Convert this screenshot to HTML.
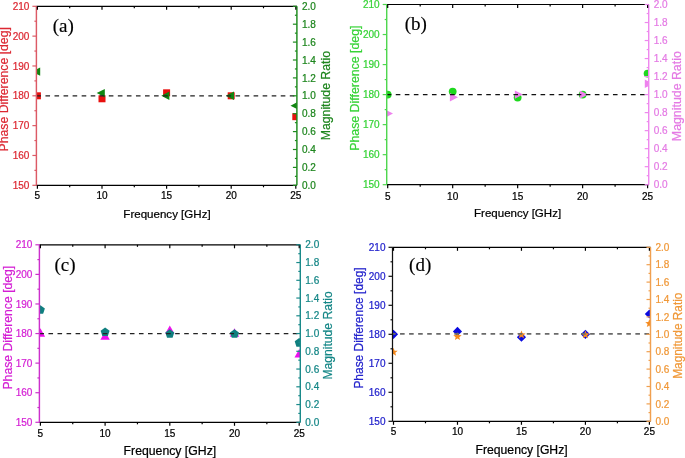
<!DOCTYPE html>
<html><head><meta charset="utf-8"><title>Phase difference and magnitude ratio</title>
<style>html,body{margin:0;padding:0;background:#fff;}svg{display:block;}text{stroke-width:0.22px;}</style></head>
<body><svg width="685" height="458" viewBox="0 0 685 458">
<rect width="685" height="458" fill="#fff"/>
<clipPath id="clipa"><rect x="36.4" y="6.3" width="260.5" height="179"/></clipPath>
<g clip-path="url(#clipa)">
<rect x="33.9" y="92.3" width="7" height="7" fill="#e8100e"/>
<polygon points="32.1,71.64 40.2,67.44 40.2,75.84" fill="#108510"/>
<rect x="98.5" y="95.28" width="7" height="7" fill="#e8100e"/>
<polygon points="96.7,93.12 104.8,88.92 104.8,97.32" fill="#108510"/>
<rect x="163.1" y="89.32" width="7" height="7" fill="#e8100e"/>
<polygon points="161.3,95.8 169.4,91.6 169.4,100" fill="#108510"/>
<rect x="227.7" y="92.3" width="7" height="7" fill="#e8100e"/>
<polygon points="225.9,95.8 234,91.6 234,100" fill="#108510"/>
<rect x="292.3" y="113.18" width="7" height="7" fill="#e8100e"/>
<polygon points="290.5,105.65 298.6,101.45 298.6,109.85" fill="#108510"/>
<line x1="36.4" y1="95.8" x2="296.9" y2="95.8" stroke="#222" stroke-width="1.3" stroke-dasharray="4.6 4.45" stroke-dashoffset="0"/>
</g>
<g stroke-width="1.2" fill="none">
<line x1="36.4" y1="6.3" x2="296.9" y2="6.3" stroke="#000"/>
<line x1="36.4" y1="185.3" x2="296.9" y2="185.3" stroke="#000"/>
<line x1="36.4" y1="6.3" x2="36.4" y2="185.3" stroke="#dc5a66" stroke-width="1.45"/>
<line x1="296.9" y1="6.3" x2="296.9" y2="185.3" stroke="#1d8a1d" stroke-width="1.45"/>
<line x1="37.4" y1="185.3" x2="37.4" y2="188.8" stroke="#000"/>
<line x1="37.4" y1="6.3" x2="37.4" y2="9.8" stroke="#000"/>
<line x1="69.7" y1="185.3" x2="69.7" y2="187.3" stroke="#000"/>
<line x1="69.7" y1="6.3" x2="69.7" y2="8.3" stroke="#000"/>
<line x1="102" y1="185.3" x2="102" y2="188.8" stroke="#000"/>
<line x1="102" y1="6.3" x2="102" y2="9.8" stroke="#000"/>
<line x1="134.3" y1="185.3" x2="134.3" y2="187.3" stroke="#000"/>
<line x1="134.3" y1="6.3" x2="134.3" y2="8.3" stroke="#000"/>
<line x1="166.6" y1="185.3" x2="166.6" y2="188.8" stroke="#000"/>
<line x1="166.6" y1="6.3" x2="166.6" y2="9.8" stroke="#000"/>
<line x1="198.9" y1="185.3" x2="198.9" y2="187.3" stroke="#000"/>
<line x1="198.9" y1="6.3" x2="198.9" y2="8.3" stroke="#000"/>
<line x1="231.2" y1="185.3" x2="231.2" y2="188.8" stroke="#000"/>
<line x1="231.2" y1="6.3" x2="231.2" y2="9.8" stroke="#000"/>
<line x1="263.5" y1="185.3" x2="263.5" y2="187.3" stroke="#000"/>
<line x1="263.5" y1="6.3" x2="263.5" y2="8.3" stroke="#000"/>
<line x1="295.8" y1="185.3" x2="295.8" y2="188.8" stroke="#000"/>
<line x1="295.8" y1="6.3" x2="295.8" y2="9.8" stroke="#000"/>
<line x1="32.4" y1="185.3" x2="36.4" y2="185.3" stroke="#dc5a66"/>
<line x1="34.4" y1="170.38" x2="36.4" y2="170.38" stroke="#dc5a66"/>
<line x1="32.4" y1="155.47" x2="36.4" y2="155.47" stroke="#dc5a66"/>
<line x1="34.4" y1="140.55" x2="36.4" y2="140.55" stroke="#dc5a66"/>
<line x1="32.4" y1="125.63" x2="36.4" y2="125.63" stroke="#dc5a66"/>
<line x1="34.4" y1="110.72" x2="36.4" y2="110.72" stroke="#dc5a66"/>
<line x1="32.4" y1="95.8" x2="36.4" y2="95.8" stroke="#dc5a66"/>
<line x1="34.4" y1="80.88" x2="36.4" y2="80.88" stroke="#dc5a66"/>
<line x1="32.4" y1="65.97" x2="36.4" y2="65.97" stroke="#dc5a66"/>
<line x1="34.4" y1="51.05" x2="36.4" y2="51.05" stroke="#dc5a66"/>
<line x1="32.4" y1="36.13" x2="36.4" y2="36.13" stroke="#dc5a66"/>
<line x1="34.4" y1="21.22" x2="36.4" y2="21.22" stroke="#dc5a66"/>
<line x1="32.4" y1="6.3" x2="36.4" y2="6.3" stroke="#dc5a66"/>
<line x1="292.9" y1="185.3" x2="296.9" y2="185.3" stroke="#1d8a1d"/>
<line x1="294.9" y1="176.35" x2="296.9" y2="176.35" stroke="#1d8a1d"/>
<line x1="292.9" y1="167.4" x2="296.9" y2="167.4" stroke="#1d8a1d"/>
<line x1="294.9" y1="158.45" x2="296.9" y2="158.45" stroke="#1d8a1d"/>
<line x1="292.9" y1="149.5" x2="296.9" y2="149.5" stroke="#1d8a1d"/>
<line x1="294.9" y1="140.55" x2="296.9" y2="140.55" stroke="#1d8a1d"/>
<line x1="292.9" y1="131.6" x2="296.9" y2="131.6" stroke="#1d8a1d"/>
<line x1="294.9" y1="122.65" x2="296.9" y2="122.65" stroke="#1d8a1d"/>
<line x1="292.9" y1="113.7" x2="296.9" y2="113.7" stroke="#1d8a1d"/>
<line x1="294.9" y1="104.75" x2="296.9" y2="104.75" stroke="#1d8a1d"/>
<line x1="292.9" y1="95.8" x2="296.9" y2="95.8" stroke="#1d8a1d"/>
<line x1="294.9" y1="86.85" x2="296.9" y2="86.85" stroke="#1d8a1d"/>
<line x1="292.9" y1="77.9" x2="296.9" y2="77.9" stroke="#1d8a1d"/>
<line x1="294.9" y1="68.95" x2="296.9" y2="68.95" stroke="#1d8a1d"/>
<line x1="292.9" y1="60" x2="296.9" y2="60" stroke="#1d8a1d"/>
<line x1="294.9" y1="51.05" x2="296.9" y2="51.05" stroke="#1d8a1d"/>
<line x1="292.9" y1="42.1" x2="296.9" y2="42.1" stroke="#1d8a1d"/>
<line x1="294.9" y1="33.15" x2="296.9" y2="33.15" stroke="#1d8a1d"/>
<line x1="292.9" y1="24.2" x2="296.9" y2="24.2" stroke="#1d8a1d"/>
<line x1="294.9" y1="15.25" x2="296.9" y2="15.25" stroke="#1d8a1d"/>
<line x1="292.9" y1="6.3" x2="296.9" y2="6.3" stroke="#1d8a1d"/>
</g>
<g font-family="'Liberation Sans', Arial, sans-serif" font-size="10">
<text x="29.4" y="188.9" text-anchor="end" fill="#dc2832" stroke="#dc2832">150</text>
<text x="29.4" y="159.07" text-anchor="end" fill="#dc2832" stroke="#dc2832">160</text>
<text x="29.4" y="129.23" text-anchor="end" fill="#dc2832" stroke="#dc2832">170</text>
<text x="29.4" y="99.4" text-anchor="end" fill="#dc2832" stroke="#dc2832">180</text>
<text x="29.4" y="69.57" text-anchor="end" fill="#dc2832" stroke="#dc2832">190</text>
<text x="29.4" y="39.73" text-anchor="end" fill="#dc2832" stroke="#dc2832">200</text>
<text x="29.4" y="9.9" text-anchor="end" fill="#dc2832" stroke="#dc2832">210</text>
<text x="301.9" y="188.9" fill="#1d851d" stroke="#1d851d">0.0</text>
<text x="301.9" y="171" fill="#1d851d" stroke="#1d851d">0.2</text>
<text x="301.9" y="153.1" fill="#1d851d" stroke="#1d851d">0.4</text>
<text x="301.9" y="135.2" fill="#1d851d" stroke="#1d851d">0.6</text>
<text x="301.9" y="117.3" fill="#1d851d" stroke="#1d851d">0.8</text>
<text x="301.9" y="99.4" fill="#1d851d" stroke="#1d851d">1.0</text>
<text x="301.9" y="81.5" fill="#1d851d" stroke="#1d851d">1.2</text>
<text x="301.9" y="63.6" fill="#1d851d" stroke="#1d851d">1.4</text>
<text x="301.9" y="45.7" fill="#1d851d" stroke="#1d851d">1.6</text>
<text x="301.9" y="27.8" fill="#1d851d" stroke="#1d851d">1.8</text>
<text x="301.9" y="9.9" fill="#1d851d" stroke="#1d851d">2.0</text>
<text x="37.4" y="199.4" text-anchor="middle" fill="#000" stroke="#000">5</text>
<text x="102" y="199.4" text-anchor="middle" fill="#000" stroke="#000">10</text>
<text x="166.6" y="199.4" text-anchor="middle" fill="#000" stroke="#000">15</text>
<text x="231.2" y="199.4" text-anchor="middle" fill="#000" stroke="#000">20</text>
<text x="295.8" y="199.4" text-anchor="middle" fill="#000" stroke="#000">25</text>
</g>
<text x="167" y="217.6" text-anchor="middle" font-family="'Liberation Sans', Arial, sans-serif" font-size="11.56" fill="#000" stroke="#000">Frequency [GHz]</text>
<text transform="translate(8.4,89.3) rotate(-90)" text-anchor="middle" font-family="'Liberation Sans', Arial, sans-serif" font-size="12.25" fill="#dc2832" stroke="#dc2832">Phase Difference [deg]</text>
<text transform="translate(330,95.65) rotate(-90)" text-anchor="middle" font-family="'Liberation Sans', Arial, sans-serif" font-size="12.25" fill="#1d851d" stroke="#1d851d">Magnitude Ratio</text>
<text x="52.8" y="31.5" font-family="'Liberation Serif', 'Times New Roman', serif" font-size="19" fill="#000" stroke="#000" style="stroke-width:0.15px">(a)</text>
<clipPath id="clipb"><rect x="386.7" y="4.5" width="262" height="180.2"/></clipPath>
<g clip-path="url(#clipb)">
<circle cx="387.7" cy="94.6" r="3.9" fill="#1ed81e"/>
<polygon points="393,113.52 384.9,109.32 384.9,117.72" fill="#ee82ee"/>
<circle cx="452.68" cy="91.6" r="3.9" fill="#1ed81e"/>
<polygon points="457.98,97.3 449.88,93.1 449.88,101.5" fill="#ee82ee"/>
<circle cx="517.65" cy="97.6" r="3.9" fill="#1ed81e"/>
<polygon points="522.95,94.6 514.85,90.4 514.85,98.8" fill="#ee82ee"/>
<circle cx="582.62" cy="94.6" r="3.9" fill="#1ed81e"/>
<polygon points="587.92,94.6 579.83,90.4 579.83,98.8" fill="#ee82ee"/>
<circle cx="647.6" cy="73.58" r="3.9" fill="#1ed81e"/>
<polygon points="652.9,83.79 644.8,79.59 644.8,87.99" fill="#ee82ee"/>
<line x1="386.7" y1="94.6" x2="648.7" y2="94.6" stroke="#111" stroke-width="1.3" stroke-dasharray="4.6 4.45" stroke-dashoffset="0"/>
</g>
<g stroke-width="1.2" fill="none">
<line x1="386.7" y1="4.5" x2="648.7" y2="4.5" stroke="#000"/>
<line x1="386.7" y1="184.7" x2="648.7" y2="184.7" stroke="#000"/>
<line x1="386.7" y1="4.5" x2="386.7" y2="184.7" stroke="#4fd64f" stroke-width="1.45"/>
<line x1="648.7" y1="4.5" x2="648.7" y2="184.7" stroke="#ee88ee" stroke-width="1.45"/>
<line x1="387.7" y1="184.7" x2="387.7" y2="188.2" stroke="#000"/>
<line x1="387.7" y1="4.5" x2="387.7" y2="8" stroke="#000"/>
<line x1="420.19" y1="184.7" x2="420.19" y2="186.7" stroke="#000"/>
<line x1="420.19" y1="4.5" x2="420.19" y2="6.5" stroke="#000"/>
<line x1="452.68" y1="184.7" x2="452.68" y2="188.2" stroke="#000"/>
<line x1="452.68" y1="4.5" x2="452.68" y2="8" stroke="#000"/>
<line x1="485.16" y1="184.7" x2="485.16" y2="186.7" stroke="#000"/>
<line x1="485.16" y1="4.5" x2="485.16" y2="6.5" stroke="#000"/>
<line x1="517.65" y1="184.7" x2="517.65" y2="188.2" stroke="#000"/>
<line x1="517.65" y1="4.5" x2="517.65" y2="8" stroke="#000"/>
<line x1="550.14" y1="184.7" x2="550.14" y2="186.7" stroke="#000"/>
<line x1="550.14" y1="4.5" x2="550.14" y2="6.5" stroke="#000"/>
<line x1="582.62" y1="184.7" x2="582.62" y2="188.2" stroke="#000"/>
<line x1="582.62" y1="4.5" x2="582.62" y2="8" stroke="#000"/>
<line x1="615.11" y1="184.7" x2="615.11" y2="186.7" stroke="#000"/>
<line x1="615.11" y1="4.5" x2="615.11" y2="6.5" stroke="#000"/>
<line x1="647.6" y1="184.7" x2="647.6" y2="188.2" stroke="#000"/>
<line x1="647.6" y1="4.5" x2="647.6" y2="8" stroke="#000"/>
<line x1="382.7" y1="184.7" x2="386.7" y2="184.7" stroke="#4fd64f"/>
<line x1="384.7" y1="169.68" x2="386.7" y2="169.68" stroke="#4fd64f"/>
<line x1="382.7" y1="154.67" x2="386.7" y2="154.67" stroke="#4fd64f"/>
<line x1="384.7" y1="139.65" x2="386.7" y2="139.65" stroke="#4fd64f"/>
<line x1="382.7" y1="124.63" x2="386.7" y2="124.63" stroke="#4fd64f"/>
<line x1="384.7" y1="109.62" x2="386.7" y2="109.62" stroke="#4fd64f"/>
<line x1="382.7" y1="94.6" x2="386.7" y2="94.6" stroke="#4fd64f"/>
<line x1="384.7" y1="79.58" x2="386.7" y2="79.58" stroke="#4fd64f"/>
<line x1="382.7" y1="64.57" x2="386.7" y2="64.57" stroke="#4fd64f"/>
<line x1="384.7" y1="49.55" x2="386.7" y2="49.55" stroke="#4fd64f"/>
<line x1="382.7" y1="34.53" x2="386.7" y2="34.53" stroke="#4fd64f"/>
<line x1="384.7" y1="19.52" x2="386.7" y2="19.52" stroke="#4fd64f"/>
<line x1="382.7" y1="4.5" x2="386.7" y2="4.5" stroke="#4fd64f"/>
<line x1="644.7" y1="184.7" x2="648.7" y2="184.7" stroke="#ee88ee"/>
<line x1="646.7" y1="175.69" x2="648.7" y2="175.69" stroke="#ee88ee"/>
<line x1="644.7" y1="166.68" x2="648.7" y2="166.68" stroke="#ee88ee"/>
<line x1="646.7" y1="157.67" x2="648.7" y2="157.67" stroke="#ee88ee"/>
<line x1="644.7" y1="148.66" x2="648.7" y2="148.66" stroke="#ee88ee"/>
<line x1="646.7" y1="139.65" x2="648.7" y2="139.65" stroke="#ee88ee"/>
<line x1="644.7" y1="130.64" x2="648.7" y2="130.64" stroke="#ee88ee"/>
<line x1="646.7" y1="121.63" x2="648.7" y2="121.63" stroke="#ee88ee"/>
<line x1="644.7" y1="112.62" x2="648.7" y2="112.62" stroke="#ee88ee"/>
<line x1="646.7" y1="103.61" x2="648.7" y2="103.61" stroke="#ee88ee"/>
<line x1="644.7" y1="94.6" x2="648.7" y2="94.6" stroke="#ee88ee"/>
<line x1="646.7" y1="85.59" x2="648.7" y2="85.59" stroke="#ee88ee"/>
<line x1="644.7" y1="76.58" x2="648.7" y2="76.58" stroke="#ee88ee"/>
<line x1="646.7" y1="67.57" x2="648.7" y2="67.57" stroke="#ee88ee"/>
<line x1="644.7" y1="58.56" x2="648.7" y2="58.56" stroke="#ee88ee"/>
<line x1="646.7" y1="49.55" x2="648.7" y2="49.55" stroke="#ee88ee"/>
<line x1="644.7" y1="40.54" x2="648.7" y2="40.54" stroke="#ee88ee"/>
<line x1="646.7" y1="31.53" x2="648.7" y2="31.53" stroke="#ee88ee"/>
<line x1="644.7" y1="22.52" x2="648.7" y2="22.52" stroke="#ee88ee"/>
<line x1="646.7" y1="13.51" x2="648.7" y2="13.51" stroke="#ee88ee"/>
<line x1="644.7" y1="4.5" x2="648.7" y2="4.5" stroke="#ee88ee"/>
</g>
<g font-family="'Liberation Sans', Arial, sans-serif" font-size="10">
<text x="379.7" y="188.3" text-anchor="end" fill="#36d336" stroke="#36d336">150</text>
<text x="379.7" y="158.27" text-anchor="end" fill="#36d336" stroke="#36d336">160</text>
<text x="379.7" y="128.23" text-anchor="end" fill="#36d336" stroke="#36d336">170</text>
<text x="379.7" y="98.2" text-anchor="end" fill="#36d336" stroke="#36d336">180</text>
<text x="379.7" y="68.17" text-anchor="end" fill="#36d336" stroke="#36d336">190</text>
<text x="379.7" y="38.13" text-anchor="end" fill="#36d336" stroke="#36d336">200</text>
<text x="379.7" y="8.1" text-anchor="end" fill="#36d336" stroke="#36d336">210</text>
<text x="653.7" y="188.3" fill="#e47ae4" stroke="#e47ae4">0.0</text>
<text x="653.7" y="170.28" fill="#e47ae4" stroke="#e47ae4">0.2</text>
<text x="653.7" y="152.26" fill="#e47ae4" stroke="#e47ae4">0.4</text>
<text x="653.7" y="134.24" fill="#e47ae4" stroke="#e47ae4">0.6</text>
<text x="653.7" y="116.22" fill="#e47ae4" stroke="#e47ae4">0.8</text>
<text x="653.7" y="98.2" fill="#e47ae4" stroke="#e47ae4">1.0</text>
<text x="653.7" y="80.18" fill="#e47ae4" stroke="#e47ae4">1.2</text>
<text x="653.7" y="62.16" fill="#e47ae4" stroke="#e47ae4">1.4</text>
<text x="653.7" y="44.14" fill="#e47ae4" stroke="#e47ae4">1.6</text>
<text x="653.7" y="26.12" fill="#e47ae4" stroke="#e47ae4">1.8</text>
<text x="653.7" y="8.1" fill="#e47ae4" stroke="#e47ae4">2.0</text>
<text x="387.7" y="199.6" text-anchor="middle" fill="#000" stroke="#000">5</text>
<text x="452.68" y="199.6" text-anchor="middle" fill="#000" stroke="#000">10</text>
<text x="517.65" y="199.6" text-anchor="middle" fill="#000" stroke="#000">15</text>
<text x="582.62" y="199.6" text-anchor="middle" fill="#000" stroke="#000">20</text>
<text x="647.6" y="199.6" text-anchor="middle" fill="#000" stroke="#000">25</text>
</g>
<text x="517.6" y="217.3" text-anchor="middle" font-family="'Liberation Sans', Arial, sans-serif" font-size="11.53" fill="#000" stroke="#000">Frequency [GHz]</text>
<text transform="translate(359.4,88.15) rotate(-90)" text-anchor="middle" font-family="'Liberation Sans', Arial, sans-serif" font-size="12.35" fill="#36d336" stroke="#36d336">Phase Difference [deg]</text>
<text transform="translate(681,96.2) rotate(-90)" text-anchor="middle" font-family="'Liberation Sans', Arial, sans-serif" font-size="12.35" fill="#e47ae4" stroke="#e47ae4">Magnitude Ratio</text>
<text x="404.7" y="29.6" font-family="'Liberation Serif', 'Times New Roman', serif" font-size="19" fill="#000" stroke="#000" style="stroke-width:0.15px">(b)</text>
<clipPath id="clipc"><rect x="39.4" y="244.8" width="260.9" height="177.5"/></clipPath>
<g clip-path="url(#clipc)">
<polygon points="40.4,328.35 45.1,336.75 35.7,336.75" fill="#ee10ee"/>
<polygon points="40.4,305.29 44.87,308.54 43.16,313.79 37.64,313.79 35.93,308.54" fill="#107f7f"/>
<polygon points="105.1,331.31 109.8,339.71 100.4,339.71" fill="#ee10ee"/>
<polygon points="105.1,327.47 109.57,330.72 107.86,335.98 102.34,335.98 100.63,330.72" fill="#107f7f"/>
<polygon points="169.8,325.39 174.5,333.79 165.1,333.79" fill="#ee10ee"/>
<polygon points="169.8,329.25 174.27,332.5 172.56,337.75 167.04,337.75 165.33,332.5" fill="#107f7f"/>
<polygon points="234.5,328.35 239.2,336.75 229.8,336.75" fill="#ee10ee"/>
<polygon points="234.5,329.25 238.97,332.5 237.26,337.75 231.74,337.75 230.03,332.5" fill="#107f7f"/>
<polygon points="299.2,349.06 303.9,357.46 294.5,357.46" fill="#ee10ee"/>
<polygon points="299.2,338.12 303.67,341.37 301.96,346.63 296.44,346.63 294.73,341.37" fill="#107f7f"/>
<line x1="39.4" y1="333.55" x2="300.3" y2="333.55" stroke="#222" stroke-width="1.3" stroke-dasharray="4.6 4.45" stroke-dashoffset="0"/>
</g>
<g stroke-width="1.2" fill="none">
<line x1="39.4" y1="244.8" x2="300.3" y2="244.8" stroke="#000"/>
<line x1="39.4" y1="422.3" x2="300.3" y2="422.3" stroke="#000"/>
<line x1="39.4" y1="244.8" x2="39.4" y2="422.3" stroke="#cc30cc" stroke-width="1.45"/>
<line x1="300.3" y1="244.8" x2="300.3" y2="422.3" stroke="#1a8a8a" stroke-width="1.45"/>
<line x1="40.4" y1="422.3" x2="40.4" y2="425.8" stroke="#000"/>
<line x1="40.4" y1="244.8" x2="40.4" y2="248.3" stroke="#000"/>
<line x1="72.75" y1="422.3" x2="72.75" y2="424.3" stroke="#000"/>
<line x1="72.75" y1="244.8" x2="72.75" y2="246.8" stroke="#000"/>
<line x1="105.1" y1="422.3" x2="105.1" y2="425.8" stroke="#000"/>
<line x1="105.1" y1="244.8" x2="105.1" y2="248.3" stroke="#000"/>
<line x1="137.45" y1="422.3" x2="137.45" y2="424.3" stroke="#000"/>
<line x1="137.45" y1="244.8" x2="137.45" y2="246.8" stroke="#000"/>
<line x1="169.8" y1="422.3" x2="169.8" y2="425.8" stroke="#000"/>
<line x1="169.8" y1="244.8" x2="169.8" y2="248.3" stroke="#000"/>
<line x1="202.15" y1="422.3" x2="202.15" y2="424.3" stroke="#000"/>
<line x1="202.15" y1="244.8" x2="202.15" y2="246.8" stroke="#000"/>
<line x1="234.5" y1="422.3" x2="234.5" y2="425.8" stroke="#000"/>
<line x1="234.5" y1="244.8" x2="234.5" y2="248.3" stroke="#000"/>
<line x1="266.85" y1="422.3" x2="266.85" y2="424.3" stroke="#000"/>
<line x1="266.85" y1="244.8" x2="266.85" y2="246.8" stroke="#000"/>
<line x1="299.2" y1="422.3" x2="299.2" y2="425.8" stroke="#000"/>
<line x1="299.2" y1="244.8" x2="299.2" y2="248.3" stroke="#000"/>
<line x1="35.4" y1="422.3" x2="39.4" y2="422.3" stroke="#cc30cc"/>
<line x1="37.4" y1="407.51" x2="39.4" y2="407.51" stroke="#cc30cc"/>
<line x1="35.4" y1="392.72" x2="39.4" y2="392.72" stroke="#cc30cc"/>
<line x1="37.4" y1="377.93" x2="39.4" y2="377.93" stroke="#cc30cc"/>
<line x1="35.4" y1="363.13" x2="39.4" y2="363.13" stroke="#cc30cc"/>
<line x1="37.4" y1="348.34" x2="39.4" y2="348.34" stroke="#cc30cc"/>
<line x1="35.4" y1="333.55" x2="39.4" y2="333.55" stroke="#cc30cc"/>
<line x1="37.4" y1="318.76" x2="39.4" y2="318.76" stroke="#cc30cc"/>
<line x1="35.4" y1="303.97" x2="39.4" y2="303.97" stroke="#cc30cc"/>
<line x1="37.4" y1="289.18" x2="39.4" y2="289.18" stroke="#cc30cc"/>
<line x1="35.4" y1="274.38" x2="39.4" y2="274.38" stroke="#cc30cc"/>
<line x1="37.4" y1="259.59" x2="39.4" y2="259.59" stroke="#cc30cc"/>
<line x1="35.4" y1="244.8" x2="39.4" y2="244.8" stroke="#cc30cc"/>
<line x1="296.3" y1="422.3" x2="300.3" y2="422.3" stroke="#1a8a8a"/>
<line x1="298.3" y1="413.43" x2="300.3" y2="413.43" stroke="#1a8a8a"/>
<line x1="296.3" y1="404.55" x2="300.3" y2="404.55" stroke="#1a8a8a"/>
<line x1="298.3" y1="395.68" x2="300.3" y2="395.68" stroke="#1a8a8a"/>
<line x1="296.3" y1="386.8" x2="300.3" y2="386.8" stroke="#1a8a8a"/>
<line x1="298.3" y1="377.93" x2="300.3" y2="377.93" stroke="#1a8a8a"/>
<line x1="296.3" y1="369.05" x2="300.3" y2="369.05" stroke="#1a8a8a"/>
<line x1="298.3" y1="360.18" x2="300.3" y2="360.18" stroke="#1a8a8a"/>
<line x1="296.3" y1="351.3" x2="300.3" y2="351.3" stroke="#1a8a8a"/>
<line x1="298.3" y1="342.43" x2="300.3" y2="342.43" stroke="#1a8a8a"/>
<line x1="296.3" y1="333.55" x2="300.3" y2="333.55" stroke="#1a8a8a"/>
<line x1="298.3" y1="324.68" x2="300.3" y2="324.68" stroke="#1a8a8a"/>
<line x1="296.3" y1="315.8" x2="300.3" y2="315.8" stroke="#1a8a8a"/>
<line x1="298.3" y1="306.93" x2="300.3" y2="306.93" stroke="#1a8a8a"/>
<line x1="296.3" y1="298.05" x2="300.3" y2="298.05" stroke="#1a8a8a"/>
<line x1="298.3" y1="289.18" x2="300.3" y2="289.18" stroke="#1a8a8a"/>
<line x1="296.3" y1="280.3" x2="300.3" y2="280.3" stroke="#1a8a8a"/>
<line x1="298.3" y1="271.42" x2="300.3" y2="271.42" stroke="#1a8a8a"/>
<line x1="296.3" y1="262.55" x2="300.3" y2="262.55" stroke="#1a8a8a"/>
<line x1="298.3" y1="253.68" x2="300.3" y2="253.68" stroke="#1a8a8a"/>
<line x1="296.3" y1="244.8" x2="300.3" y2="244.8" stroke="#1a8a8a"/>
</g>
<g font-family="'Liberation Sans', Arial, sans-serif" font-size="10">
<text x="32.4" y="425.9" text-anchor="end" fill="#d41fd4" stroke="#d41fd4">150</text>
<text x="32.4" y="396.32" text-anchor="end" fill="#d41fd4" stroke="#d41fd4">160</text>
<text x="32.4" y="366.73" text-anchor="end" fill="#d41fd4" stroke="#d41fd4">170</text>
<text x="32.4" y="337.15" text-anchor="end" fill="#d41fd4" stroke="#d41fd4">180</text>
<text x="32.4" y="307.57" text-anchor="end" fill="#d41fd4" stroke="#d41fd4">190</text>
<text x="32.4" y="277.98" text-anchor="end" fill="#d41fd4" stroke="#d41fd4">200</text>
<text x="32.4" y="248.4" text-anchor="end" fill="#d41fd4" stroke="#d41fd4">210</text>
<text x="305.3" y="425.9" fill="#148686" stroke="#148686">0.0</text>
<text x="305.3" y="408.15" fill="#148686" stroke="#148686">0.2</text>
<text x="305.3" y="390.4" fill="#148686" stroke="#148686">0.4</text>
<text x="305.3" y="372.65" fill="#148686" stroke="#148686">0.6</text>
<text x="305.3" y="354.9" fill="#148686" stroke="#148686">0.8</text>
<text x="305.3" y="337.15" fill="#148686" stroke="#148686">1.0</text>
<text x="305.3" y="319.4" fill="#148686" stroke="#148686">1.2</text>
<text x="305.3" y="301.65" fill="#148686" stroke="#148686">1.4</text>
<text x="305.3" y="283.9" fill="#148686" stroke="#148686">1.6</text>
<text x="305.3" y="266.15" fill="#148686" stroke="#148686">1.8</text>
<text x="305.3" y="248.4" fill="#148686" stroke="#148686">2.0</text>
<text x="40.4" y="436.8" text-anchor="middle" fill="#000" stroke="#000">5</text>
<text x="105.1" y="436.8" text-anchor="middle" fill="#000" stroke="#000">10</text>
<text x="169.8" y="436.8" text-anchor="middle" fill="#000" stroke="#000">15</text>
<text x="234.5" y="436.8" text-anchor="middle" fill="#000" stroke="#000">20</text>
<text x="299.2" y="436.8" text-anchor="middle" fill="#000" stroke="#000">25</text>
</g>
<text x="169.9" y="455.2" text-anchor="middle" font-family="'Liberation Sans', Arial, sans-serif" font-size="12.25" fill="#000" stroke="#000">Frequency [GHz]</text>
<text transform="translate(11.6,327.65) rotate(-90)" text-anchor="middle" font-family="'Liberation Sans', Arial, sans-serif" font-size="12.2" fill="#d41fd4" stroke="#d41fd4">Phase Difference [deg]</text>
<text transform="translate(332.2,335.4) rotate(-90)" text-anchor="middle" font-family="'Liberation Sans', Arial, sans-serif" font-size="12.15" fill="#148686" stroke="#148686">Magnitude Ratio</text>
<text x="54.5" y="271.1" font-family="'Liberation Serif', 'Times New Roman', serif" font-size="19" fill="#000" stroke="#000" style="stroke-width:0.15px">(c)</text>
<clipPath id="clipd"><rect x="392.5" y="247.3" width="258" height="174"/></clipPath>
<g clip-path="url(#clipd)">
<polygon points="393.5,329.7 398.1,334.3 393.5,338.9 388.9,334.3" fill="#0a0ae0"/>
<polygon points="393.5,347.8 394.62,350.66 397.68,350.84 395.31,352.79 396.09,355.76 393.5,354.1 390.91,355.76 391.69,352.79 389.32,350.84 392.38,350.66" fill="#f58a1e"/>
<polygon points="457.48,326.8 462.08,331.4 457.48,336 452.88,331.4" fill="#0a0ae0"/>
<polygon points="457.48,332.14 458.59,335 461.66,335.18 459.28,337.13 460.06,340.1 457.48,338.44 454.89,340.1 455.67,337.13 453.29,335.18 456.36,335" fill="#f58a1e"/>
<polygon points="521.45,332.6 526.05,337.2 521.45,341.8 516.85,337.2" fill="#0a0ae0"/>
<polygon points="521.45,330.4 522.57,333.26 525.63,333.44 523.26,335.39 524.04,338.36 521.45,336.7 518.86,338.36 519.64,335.39 517.27,333.44 520.33,333.26" fill="#f58a1e"/>
<polygon points="585.42,329.7 590.02,334.3 585.42,338.9 580.82,334.3" fill="#0a0ae0"/>
<polygon points="585.42,330.4 586.54,333.26 589.61,333.44 587.23,335.39 588.01,338.36 585.42,336.7 582.84,338.36 583.62,335.39 581.24,333.44 584.31,333.26" fill="#f58a1e"/>
<polygon points="649.4,309.4 654,314 649.4,318.6 644.8,314" fill="#0a0ae0"/>
<polygon points="649.4,319.09 650.52,321.95 653.58,322.13 651.21,324.08 651.99,327.05 649.4,325.39 646.81,327.05 647.59,324.08 645.22,322.13 648.28,321.95" fill="#f58a1e"/>
<line x1="392.5" y1="333.9" x2="650.5" y2="333.9" stroke="#6a6a6a" stroke-width="1.7" stroke-dasharray="4.6 4.45" stroke-dashoffset="1.5"/>
</g>
<g stroke-width="1.2" fill="none">
<line x1="392.5" y1="247.3" x2="650.5" y2="247.3" stroke="#000"/>
<line x1="392.5" y1="421.3" x2="650.5" y2="421.3" stroke="#000"/>
<line x1="392.5" y1="247.3" x2="392.5" y2="421.3" stroke="#111" stroke-width="1.25"/>
<line x1="650.5" y1="247.3" x2="650.5" y2="421.3" stroke="#f0a050" stroke-width="1.45"/>
<line x1="393.5" y1="421.3" x2="393.5" y2="424.8" stroke="#000"/>
<line x1="393.5" y1="247.3" x2="393.5" y2="250.8" stroke="#000"/>
<line x1="425.49" y1="421.3" x2="425.49" y2="423.3" stroke="#000"/>
<line x1="425.49" y1="247.3" x2="425.49" y2="249.3" stroke="#000"/>
<line x1="457.48" y1="421.3" x2="457.48" y2="424.8" stroke="#000"/>
<line x1="457.48" y1="247.3" x2="457.48" y2="250.8" stroke="#000"/>
<line x1="489.46" y1="421.3" x2="489.46" y2="423.3" stroke="#000"/>
<line x1="489.46" y1="247.3" x2="489.46" y2="249.3" stroke="#000"/>
<line x1="521.45" y1="421.3" x2="521.45" y2="424.8" stroke="#000"/>
<line x1="521.45" y1="247.3" x2="521.45" y2="250.8" stroke="#000"/>
<line x1="553.44" y1="421.3" x2="553.44" y2="423.3" stroke="#000"/>
<line x1="553.44" y1="247.3" x2="553.44" y2="249.3" stroke="#000"/>
<line x1="585.42" y1="421.3" x2="585.42" y2="424.8" stroke="#000"/>
<line x1="585.42" y1="247.3" x2="585.42" y2="250.8" stroke="#000"/>
<line x1="617.41" y1="421.3" x2="617.41" y2="423.3" stroke="#000"/>
<line x1="617.41" y1="247.3" x2="617.41" y2="249.3" stroke="#000"/>
<line x1="649.4" y1="421.3" x2="649.4" y2="424.8" stroke="#000"/>
<line x1="649.4" y1="247.3" x2="649.4" y2="250.8" stroke="#000"/>
<line x1="388.5" y1="421.3" x2="392.5" y2="421.3" stroke="#111"/>
<line x1="390.5" y1="406.8" x2="392.5" y2="406.8" stroke="#111"/>
<line x1="388.5" y1="392.3" x2="392.5" y2="392.3" stroke="#111"/>
<line x1="390.5" y1="377.8" x2="392.5" y2="377.8" stroke="#111"/>
<line x1="388.5" y1="363.3" x2="392.5" y2="363.3" stroke="#111"/>
<line x1="390.5" y1="348.8" x2="392.5" y2="348.8" stroke="#111"/>
<line x1="388.5" y1="334.3" x2="392.5" y2="334.3" stroke="#111"/>
<line x1="390.5" y1="319.8" x2="392.5" y2="319.8" stroke="#111"/>
<line x1="388.5" y1="305.3" x2="392.5" y2="305.3" stroke="#111"/>
<line x1="390.5" y1="290.8" x2="392.5" y2="290.8" stroke="#111"/>
<line x1="388.5" y1="276.3" x2="392.5" y2="276.3" stroke="#111"/>
<line x1="390.5" y1="261.8" x2="392.5" y2="261.8" stroke="#111"/>
<line x1="388.5" y1="247.3" x2="392.5" y2="247.3" stroke="#111"/>
<line x1="646.5" y1="421.3" x2="650.5" y2="421.3" stroke="#f0a050"/>
<line x1="648.5" y1="412.6" x2="650.5" y2="412.6" stroke="#f0a050"/>
<line x1="646.5" y1="403.9" x2="650.5" y2="403.9" stroke="#f0a050"/>
<line x1="648.5" y1="395.2" x2="650.5" y2="395.2" stroke="#f0a050"/>
<line x1="646.5" y1="386.5" x2="650.5" y2="386.5" stroke="#f0a050"/>
<line x1="648.5" y1="377.8" x2="650.5" y2="377.8" stroke="#f0a050"/>
<line x1="646.5" y1="369.1" x2="650.5" y2="369.1" stroke="#f0a050"/>
<line x1="648.5" y1="360.4" x2="650.5" y2="360.4" stroke="#f0a050"/>
<line x1="646.5" y1="351.7" x2="650.5" y2="351.7" stroke="#f0a050"/>
<line x1="648.5" y1="343" x2="650.5" y2="343" stroke="#f0a050"/>
<line x1="646.5" y1="334.3" x2="650.5" y2="334.3" stroke="#f0a050"/>
<line x1="648.5" y1="325.6" x2="650.5" y2="325.6" stroke="#f0a050"/>
<line x1="646.5" y1="316.9" x2="650.5" y2="316.9" stroke="#f0a050"/>
<line x1="648.5" y1="308.2" x2="650.5" y2="308.2" stroke="#f0a050"/>
<line x1="646.5" y1="299.5" x2="650.5" y2="299.5" stroke="#f0a050"/>
<line x1="648.5" y1="290.8" x2="650.5" y2="290.8" stroke="#f0a050"/>
<line x1="646.5" y1="282.1" x2="650.5" y2="282.1" stroke="#f0a050"/>
<line x1="648.5" y1="273.4" x2="650.5" y2="273.4" stroke="#f0a050"/>
<line x1="646.5" y1="264.7" x2="650.5" y2="264.7" stroke="#f0a050"/>
<line x1="648.5" y1="256" x2="650.5" y2="256" stroke="#f0a050"/>
<line x1="646.5" y1="247.3" x2="650.5" y2="247.3" stroke="#f0a050"/>
</g>
<g font-family="'Liberation Sans', Arial, sans-serif" font-size="10">
<text x="385.5" y="424.9" text-anchor="end" fill="#2222cc" stroke="#2222cc">150</text>
<text x="385.5" y="395.9" text-anchor="end" fill="#2222cc" stroke="#2222cc">160</text>
<text x="385.5" y="366.9" text-anchor="end" fill="#2222cc" stroke="#2222cc">170</text>
<text x="385.5" y="337.9" text-anchor="end" fill="#2222cc" stroke="#2222cc">180</text>
<text x="385.5" y="308.9" text-anchor="end" fill="#2222cc" stroke="#2222cc">190</text>
<text x="385.5" y="279.9" text-anchor="end" fill="#2222cc" stroke="#2222cc">200</text>
<text x="385.5" y="250.9" text-anchor="end" fill="#2222cc" stroke="#2222cc">210</text>
<text x="655.5" y="424.9" fill="#f09838" stroke="#f09838">0.0</text>
<text x="655.5" y="407.5" fill="#f09838" stroke="#f09838">0.2</text>
<text x="655.5" y="390.1" fill="#f09838" stroke="#f09838">0.4</text>
<text x="655.5" y="372.7" fill="#f09838" stroke="#f09838">0.6</text>
<text x="655.5" y="355.3" fill="#f09838" stroke="#f09838">0.8</text>
<text x="655.5" y="337.9" fill="#f09838" stroke="#f09838">1.0</text>
<text x="655.5" y="320.5" fill="#f09838" stroke="#f09838">1.2</text>
<text x="655.5" y="303.1" fill="#f09838" stroke="#f09838">1.4</text>
<text x="655.5" y="285.7" fill="#f09838" stroke="#f09838">1.6</text>
<text x="655.5" y="268.3" fill="#f09838" stroke="#f09838">1.8</text>
<text x="655.5" y="250.9" fill="#f09838" stroke="#f09838">2.0</text>
<text x="393.5" y="435.4" text-anchor="middle" fill="#000" stroke="#000">5</text>
<text x="457.48" y="435.4" text-anchor="middle" fill="#000" stroke="#000">10</text>
<text x="521.45" y="435.4" text-anchor="middle" fill="#000" stroke="#000">15</text>
<text x="585.42" y="435.4" text-anchor="middle" fill="#000" stroke="#000">20</text>
<text x="649.4" y="435.4" text-anchor="middle" fill="#000" stroke="#000">25</text>
</g>
<text x="521.6" y="453.9" text-anchor="middle" font-family="'Liberation Sans', Arial, sans-serif" font-size="12.2" fill="#000" stroke="#000">Frequency [GHz]</text>
<text transform="translate(362.7,328) rotate(-90)" text-anchor="middle" font-family="'Liberation Sans', Arial, sans-serif" font-size="11.95" fill="#2222cc" stroke="#2222cc">Phase Difference [deg]</text>
<text transform="translate(681.8,335.7) rotate(-90)" text-anchor="middle" font-family="'Liberation Sans', Arial, sans-serif" font-size="11.85" fill="#f09838" stroke="#f09838">Magnitude Ratio</text>
<text x="409.1" y="271.1" font-family="'Liberation Serif', 'Times New Roman', serif" font-size="19" fill="#000" stroke="#000" style="stroke-width:0.15px">(d)</text>
</svg></body></html>
